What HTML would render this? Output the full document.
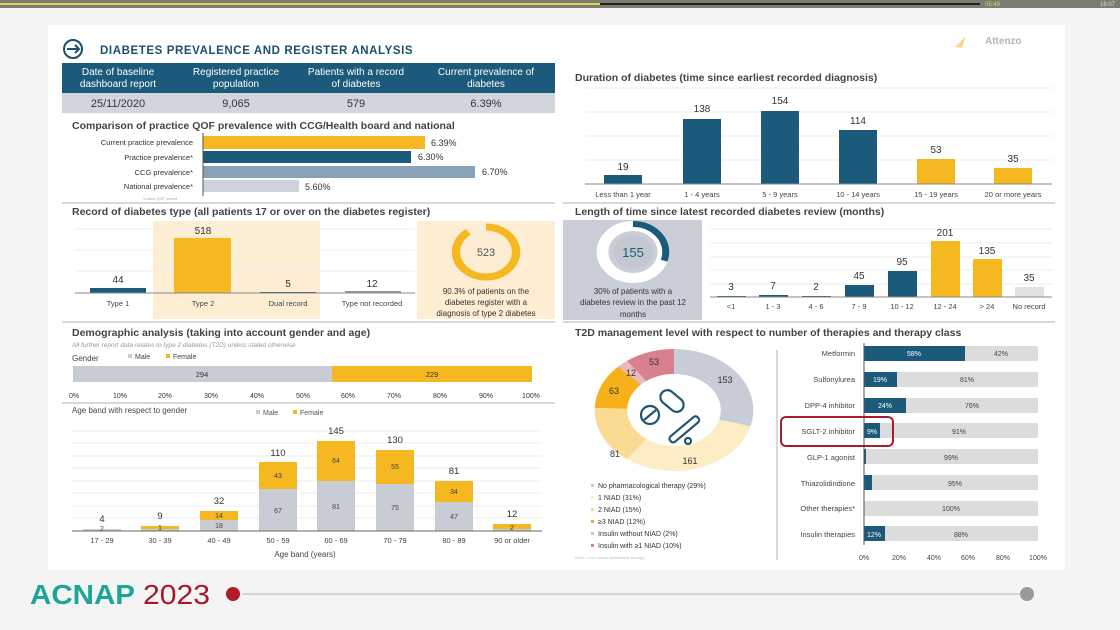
<!DOCTYPE html>
<html><head><meta charset="utf-8"><style>
html,body{margin:0;padding:0;background:#f3f3f3;}
svg{display:block;font-family:"Liberation Sans",sans-serif;}
</style></head><body>
<svg width="1120" height="630" viewBox="0 0 1120 630" xmlns="http://www.w3.org/2000/svg">
<rect width="1120" height="630" fill="#f4f4f4"/>
<rect x="0" y="0" width="1120" height="8" fill="#7c7c74"/>
<rect x="0" y="3" width="600" height="2" fill="#d8d84a"/>
<rect x="600" y="3" width="380" height="2" fill="#222"/>
<text x="985" y="6" font-size="6" fill="#dddd55">05:49</text>
<text x="1100" y="6" font-size="6" fill="#ddd">16:07</text>
<rect x="48" y="25" width="1017" height="545" fill="#ffffff"/>

<!-- Header -->
<circle cx="73" cy="49" r="9" fill="none" stroke="#1b4f6e" stroke-width="2"/>
<path d="M67 49 H79 M75 45 L79 49 L75 53" stroke="#1b4f6e" stroke-width="2" fill="none"/>
<text x="100" y="54" font-size="11.5" font-weight="bold" fill="#1b4f6e" letter-spacing="0.6">DIABETES PREVALENCE AND REGISTER ANALYSIS</text>
<text x="985" y="44" font-size="10" font-weight="bold" fill="#b0b5bb">Attenzo</text>
<path d="M955 47 L966 36 L962 48 Z" fill="#f5d890"/>

<!-- Table -->
<rect x="62" y="63" width="493" height="30" fill="#1b5a7a"/>
<rect x="62" y="93" width="493" height="20" fill="#d1d6dd"/>
<g font-size="10" fill="#fff" text-anchor="middle">
<text x="118" y="75">Date of baseline</text><text x="118" y="87">dashboard report</text>
<text x="236" y="75">Registered practice</text><text x="236" y="87">population</text>
<text x="356" y="75">Patients with a record</text><text x="356" y="87">of diabetes</text>
<text x="486" y="75">Current prevalence of</text><text x="486" y="87">diabetes</text>
</g>
<g font-size="11" fill="#333" text-anchor="middle">
<text x="118" y="107">25/11/2020</text><text x="236" y="107">9,065</text><text x="356" y="107">579</text><text x="486" y="107">6.39%</text>
</g>

<!-- QOF comparison -->
<text x="72" y="129" font-size="10.5" font-weight="bold" fill="#444">Comparison of practice QOF prevalence with CCG/Health board and national</text>
<g font-size="7.5" fill="#333" text-anchor="end">
<text x="193" y="145">Current practice prevalence</text>
<text x="193" y="160">Practice prevalence*</text>
<text x="193" y="175">CCG prevalence*</text>
<text x="193" y="189">National prevalence*</text>
</g>
<text x="160" y="200" font-size="4" fill="#aaa" text-anchor="middle">*Latest QOF period</text>
<rect x="203" y="136" width="222" height="13" fill="#f5b820"/>
<rect x="203" y="151" width="208" height="12" fill="#1b5a7a"/>
<rect x="203" y="166" width="272" height="12" fill="#8aa2b5"/>
<rect x="203" y="180" width="96" height="12" fill="#cdd2da"/>
<line x1="203" y1="133" x2="203" y2="196" stroke="#555" stroke-width="1"/>
<g font-size="9" fill="#333">
<text x="431" y="146">6.39%</text><text x="418" y="160">6.30%</text><text x="482" y="175">6.70%</text><text x="305" y="190">5.60%</text>
</g>
<line x1="62" y1="203" x2="555" y2="203" stroke="#ccc" stroke-width="1.5"/>

<!-- Diabetes type -->
<text x="72" y="215" font-size="10.5" font-weight="bold" fill="#444">Record of diabetes type (all patients 17 or over on the diabetes register)</text>
<rect x="153" y="221" width="167" height="98" fill="#fdeed3"/>
<rect x="417" y="221" width="138" height="98" fill="#fdeed3"/>
<g stroke="#eee"><line x1="75" y1="229" x2="415" y2="229"/><line x1="75" y1="250" x2="415" y2="250"/><line x1="75" y1="271" x2="415" y2="271"/></g>
<rect x="90" y="288" width="56" height="5" fill="#1b5a7a"/>
<rect x="174" y="238" width="57" height="55" fill="#f5b820"/>
<rect x="260" y="292" width="56" height="1" fill="#1b5a7a"/>
<rect x="345" y="291" width="56" height="2" fill="#999"/>
<line x1="75" y1="293" x2="415" y2="293" stroke="#888"/>
<g font-size="10" fill="#333" text-anchor="middle">
<text x="118" y="283">44</text><text x="203" y="234">518</text><text x="288" y="287">5</text><text x="372" y="287">12</text>
</g>
<g font-size="7.5" fill="#444" text-anchor="middle">
<text x="118" y="306">Type 1</text><text x="203" y="306">Type 2</text><text x="288" y="306">Dual record</text><text x="372" y="306">Type not recorded</text>
</g>
<g transform="translate(486,252) scale(1.2,1)">
<circle r="25" fill="none" stroke="#f5b820" stroke-width="7" stroke-dasharray="141 16" transform="rotate(-90)"/>
</g>
<text x="486" y="256" font-size="11" fill="#555" text-anchor="middle">523</text>
<g font-size="8" fill="#333" text-anchor="middle">
<text x="486" y="294">90.3% of patients on the</text><text x="486" y="305">diabetes register with a</text><text x="486" y="316">diagnosis of type 2 diabetes</text>
</g>
<line x1="62" y1="322" x2="555" y2="322" stroke="#ccc" stroke-width="1.5"/>

<!-- Demographic -->
<text x="72" y="336" font-size="10.5" font-weight="bold" fill="#444">Demographic analysis (taking into account gender and age)</text>
<text x="72" y="347" font-size="6.5" font-style="italic" fill="#999">All further report data relates to type 2 diabetes (T2D) unless stated otherwise</text>
<text x="72" y="361" font-size="8" fill="#444">Gender</text>
<rect x="128" y="354" width="4" height="4" fill="#c8ccd4"/><text x="135" y="359" font-size="7" fill="#444">Male</text>
<rect x="166" y="354" width="4" height="4" fill="#f5b820"/><text x="173" y="359" font-size="7" fill="#444">Female</text>
<rect x="73" y="366" width="259" height="16" fill="#c8ccd4"/>
<rect x="332" y="366" width="200" height="16" fill="#f5b820"/>
<text x="202" y="377" font-size="7.5" fill="#333" text-anchor="middle">294</text>
<text x="432" y="377" font-size="7.5" fill="#333" text-anchor="middle">229</text>
<g font-size="7" fill="#333" text-anchor="middle">
<text x="74" y="398">0%</text><text x="120" y="398">10%</text><text x="165" y="398">20%</text><text x="211" y="398">30%</text><text x="257" y="398">40%</text><text x="303" y="398">50%</text><text x="348" y="398">60%</text><text x="394" y="398">70%</text><text x="440" y="398">80%</text><text x="486" y="398">90%</text><text x="531" y="398">100%</text>
</g>
<line x1="62" y1="403" x2="555" y2="403" stroke="#ccc" stroke-width="1.5"/>
<text x="72" y="413" font-size="8" fill="#444">Age band with respect to gender</text>
<rect x="256" y="410" width="4" height="4" fill="#c8ccd4"/><text x="263" y="415" font-size="7" fill="#555">Male</text>
<rect x="293" y="410" width="4" height="4" fill="#f5b820"/><text x="300" y="415" font-size="7" fill="#555">Female</text>
<g stroke="#eee">
<line x1="72" y1="431" x2="542" y2="431"/><line x1="72" y1="443" x2="542" y2="443"/><line x1="72" y1="456" x2="542" y2="456"/><line x1="72" y1="468" x2="542" y2="468"/><line x1="72" y1="481" x2="542" y2="481"/><line x1="72" y1="493" x2="542" y2="493"/><line x1="72" y1="506" x2="542" y2="506"/><line x1="72" y1="518" x2="542" y2="518"/>
</g>
<rect x="83" y="529" width="38" height="2" fill="#c8ccd4"/>
<rect x="141" y="528" width="38" height="3" fill="#c8ccd4"/><rect x="141" y="526" width="38" height="3" fill="#f5b820"/>
<rect x="200" y="520" width="38" height="11" fill="#c8ccd4"/><rect x="200" y="511" width="38" height="9" fill="#f5b820"/>
<rect x="259" y="489" width="38" height="42" fill="#c8ccd4"/><rect x="259" y="462" width="38" height="27" fill="#f5b820"/>
<rect x="317" y="481" width="38" height="50" fill="#c8ccd4"/><rect x="317" y="441" width="38" height="40" fill="#f5b820"/>
<rect x="376" y="484" width="38" height="47" fill="#c8ccd4"/><rect x="376" y="450" width="38" height="34" fill="#f5b820"/>
<rect x="435" y="502" width="38" height="29" fill="#c8ccd4"/><rect x="435" y="481" width="38" height="21" fill="#f5b820"/>
<rect x="493" y="529" width="38" height="2" fill="#c8ccd4"/><rect x="493" y="524" width="38" height="5" fill="#f5b820"/>
<line x1="72" y1="531" x2="542" y2="531" stroke="#666"/>
<g font-size="7" fill="#444" text-anchor="middle">
<text x="102" y="531">2</text><text x="160" y="530">1</text>
<text x="219" y="528">18</text><text x="219" y="518">14</text>
<text x="278" y="513">67</text><text x="278" y="478">43</text>
<text x="336" y="509">81</text><text x="336" y="463">64</text>
<text x="395" y="510">75</text><text x="395" y="469">55</text>
<text x="454" y="519">47</text><text x="454" y="494">34</text>
<text x="512" y="530">2</text>
</g>
<g font-size="9.5" fill="#333" text-anchor="middle">
<text x="102" y="522">4</text><text x="160" y="519">9</text><text x="219" y="504">32</text><text x="278" y="456">110</text><text x="336" y="434">145</text><text x="395" y="443">130</text><text x="454" y="474">81</text><text x="512" y="517">12</text>
</g>
<g font-size="7.5" fill="#444" text-anchor="middle">
<text x="102" y="543">17 - 29</text><text x="160" y="543">30 - 39</text><text x="219" y="543">40 - 49</text><text x="278" y="543">50 - 59</text><text x="336" y="543">60 - 69</text><text x="395" y="543">70 - 79</text><text x="454" y="543">80 - 89</text><text x="512" y="543">90 or older</text>
</g>
<text x="305" y="557" font-size="8" fill="#444" text-anchor="middle">Age band (years)</text>

<!-- Duration -->
<text x="575" y="81" font-size="10.5" font-weight="bold" fill="#444">Duration of diabetes (time since earliest recorded diagnosis)</text>
<g stroke="#eee"><line x1="585" y1="88" x2="1052" y2="88"/><line x1="585" y1="112" x2="1052" y2="112"/><line x1="585" y1="136" x2="1052" y2="136"/><line x1="585" y1="160" x2="1052" y2="160"/></g>
<rect x="604" y="175" width="38" height="9" fill="#1b5a7a"/>
<rect x="683" y="119" width="38" height="65" fill="#1b5a7a"/>
<rect x="761" y="111" width="38" height="73" fill="#1b5a7a"/>
<rect x="839" y="130" width="38" height="54" fill="#1b5a7a"/>
<rect x="917" y="159" width="38" height="25" fill="#f5b820"/>
<rect x="994" y="168" width="38" height="16" fill="#f5b820"/>
<line x1="585" y1="184" x2="1052" y2="184" stroke="#888"/>
<g font-size="10" fill="#333" text-anchor="middle">
<text x="623" y="170">19</text><text x="702" y="112">138</text><text x="780" y="104">154</text><text x="858" y="124">114</text><text x="936" y="153">53</text><text x="1013" y="162">35</text>
</g>
<g font-size="7.5" fill="#444" text-anchor="middle">
<text x="623" y="197">Less than 1 year</text><text x="702" y="197">1 - 4 years</text><text x="780" y="197">5 - 9 years</text><text x="858" y="197">10 - 14 years</text><text x="936" y="197">15 - 19 years</text><text x="1013" y="197">20 or more years</text>
</g>
<line x1="563" y1="203" x2="1055" y2="203" stroke="#ccc" stroke-width="1.5"/>

<!-- Review -->
<text x="575" y="215" font-size="10.5" font-weight="bold" fill="#444">Length of time since latest recorded diabetes review (months)</text>
<rect x="563" y="220" width="139" height="100" fill="#c9ced8"/>
<g transform="translate(633,252) scale(1.17,1)">
<circle r="26" fill="none" stroke="#fff" stroke-width="10"/>
<circle r="17" fill="#c2c7d0"/>
<circle r="28" fill="none" stroke="#1b5a7a" stroke-width="6" stroke-dasharray="52.8 200" transform="rotate(-90)"/>
</g>
<text x="633" y="257" font-size="13" fill="#1b5a7a" text-anchor="middle">155</text>
<g font-size="8" fill="#333" text-anchor="middle">
<text x="633" y="294">30% of patients with a</text><text x="633" y="305">diabetes review in the past 12</text><text x="633" y="317">months</text>
</g>
<g stroke="#eee"><line x1="710" y1="229" x2="1052" y2="229"/><line x1="710" y1="243" x2="1052" y2="243"/><line x1="710" y1="257" x2="1052" y2="257"/><line x1="710" y1="270" x2="1052" y2="270"/><line x1="710" y1="284" x2="1052" y2="284"/></g>
<rect x="717" y="296" width="29" height="1" fill="#1b5a7a"/>
<rect x="759" y="295" width="29" height="2" fill="#1b5a7a"/>
<rect x="802" y="296" width="29" height="1" fill="#1b5a7a"/>
<rect x="845" y="285" width="29" height="12" fill="#1b5a7a"/>
<rect x="888" y="271" width="29" height="26" fill="#1b5a7a"/>
<rect x="931" y="241" width="29" height="56" fill="#f5b820"/>
<rect x="973" y="259" width="29" height="38" fill="#f5b820"/>
<rect x="1015" y="287" width="29" height="10" fill="#e2e2e2"/>
<line x1="710" y1="297" x2="1052" y2="297" stroke="#888"/>
<g font-size="10" fill="#333" text-anchor="middle">
<text x="731" y="290">3</text><text x="773" y="289">7</text><text x="816" y="290">2</text><text x="859" y="279">45</text><text x="902" y="265">95</text><text x="945" y="236">201</text><text x="987" y="254">135</text><text x="1029" y="281">35</text>
</g>
<g font-size="7.5" fill="#444" text-anchor="middle">
<text x="731" y="309">&lt;1</text><text x="773" y="309">1 - 3</text><text x="816" y="309">4 - 6</text><text x="859" y="309">7 - 9</text><text x="902" y="309">10 - 12</text><text x="945" y="309">12 - 24</text><text x="987" y="309">&gt; 24</text><text x="1029" y="309">No record</text>
</g>
<line x1="563" y1="322" x2="1055" y2="322" stroke="#ccc" stroke-width="1.5"/>

<!-- T2D -->
<text x="575" y="336" font-size="10.5" font-weight="bold" fill="#444">T2D management level with respect to number of therapies and therapy class</text>
<g transform="translate(674,410) scale(1.3,1)">
<g transform="rotate(-90)" fill="none" stroke-width="25">
<circle r="48.5" stroke="#c8ccd6" stroke-dasharray="89.2 400" stroke-dashoffset="0"/>
<circle r="48.5" stroke="#fdecc4" stroke-dasharray="93.8 400" stroke-dashoffset="-89.2"/>
<circle r="48.5" stroke="#fbdb94" stroke-dasharray="47.2 400" stroke-dashoffset="-183"/>
<circle r="48.5" stroke="#f5b01a" stroke-dasharray="36.7 400" stroke-dashoffset="-230.2"/>
<circle r="48.5" stroke="#eab8c0" stroke-dasharray="7 400" stroke-dashoffset="-266.9"/>
<circle r="48.5" stroke="#d9808e" stroke-dasharray="30.9 400" stroke-dashoffset="-273.9"/>
</g>
</g>
<g stroke="#1f5570" stroke-width="2.2" fill="none">
<ellipse cx="650" cy="415" rx="9" ry="9"/><line x1="644" y1="420" x2="656" y2="410"/>
<rect x="665" y="388" width="14" height="26" rx="7" transform="rotate(-50 672 401)"/>
<rect x="666" y="426" width="36" height="7" rx="3" transform="rotate(-40 684 429)"/>
<circle cx="688" cy="441" r="3"/>
</g>
<g font-size="9" fill="#333" text-anchor="middle">
<text x="725" y="383">153</text><text x="690" y="464">161</text><text x="615" y="457">81</text><text x="614" y="394">63</text><text x="631" y="376">12</text><text x="654" y="365">53</text>
</g>
<g font-size="7" fill="#333">
<rect x="591" y="484" width="3" height="3" fill="#c8ccd6"/><text x="598" y="488">No pharmacological therapy (29%)</text>
<rect x="591" y="496" width="3" height="3" fill="#fdecc4"/><text x="598" y="500">1 NIAD (31%)</text>
<rect x="591" y="508" width="3" height="3" fill="#fbdb94"/><text x="598" y="512">2 NIAD (15%)</text>
<rect x="591" y="520" width="3" height="3" fill="#f5b01a"/><text x="598" y="524">≥3 NIAD (12%)</text>
<rect x="591" y="532" width="3" height="3" fill="#eab8c0"/><text x="598" y="536">Insulin without NIAD (2%)</text>
<rect x="591" y="544" width="3" height="3" fill="#d9808e"/><text x="598" y="548">Insulin with ≥1 NIAD (10%)</text>
</g>
<text x="575" y="559" font-size="4" fill="#bbb">NIAD = non insulin antidiabetic therapy</text>
<line x1="777" y1="350" x2="777" y2="560" stroke="#ccc" stroke-width="1.5"/>

<g font-size="7.5" fill="#444" text-anchor="end">
<text x="855" y="356">Metformin</text><text x="855" y="382">Sulfonylurea</text><text x="855" y="408">DPP-4 inhibitor</text><text x="855" y="434">SGLT-2 inhibitor</text><text x="855" y="460">GLP-1 agonist</text><text x="855" y="486">Thiazolidindione</text><text x="855" y="511">Other therapies*</text><text x="855" y="537">Insulin therapies</text>
</g>
<g fill="#dcdcdc">
<rect x="864" y="346" width="174" height="15"/><rect x="864" y="372" width="174" height="15"/><rect x="864" y="398" width="174" height="15"/><rect x="864" y="423" width="174" height="15"/><rect x="864" y="449" width="174" height="15"/><rect x="864" y="475" width="174" height="15"/><rect x="864" y="501" width="174" height="15"/><rect x="864" y="526" width="174" height="15"/>
</g>
<g fill="#1b5a7a">
<rect x="864" y="346" width="101" height="15"/><rect x="864" y="372" width="33" height="15"/><rect x="864" y="398" width="42" height="15"/><rect x="864" y="423" width="16" height="15"/><rect x="864" y="449" width="2" height="15"/><rect x="864" y="475" width="8" height="15"/><rect x="864" y="526" width="21" height="15"/>
</g>
<g font-size="7" text-anchor="middle">
<text x="914" y="356" fill="#fff">58%</text><text x="1001" y="356" fill="#444">42%</text>
<text x="880" y="382" fill="#fff">19%</text><text x="967" y="382" fill="#444">81%</text>
<text x="885" y="408" fill="#fff">24%</text><text x="972" y="408" fill="#444">76%</text>
<text x="872" y="434" fill="#fff">9%</text><text x="959" y="434" fill="#444">91%</text>
<text x="951" y="460" fill="#444">99%</text>
<text x="955" y="486" fill="#444">95%</text>
<text x="951" y="511" fill="#444">100%</text>
<text x="874" y="537" fill="#fff">12%</text><text x="961" y="537" fill="#444">88%</text>
</g>
<line x1="864" y1="343" x2="864" y2="545" stroke="#555"/>
<g font-size="7" fill="#444" text-anchor="middle">
<text x="864" y="560">0%</text><text x="899" y="560">20%</text><text x="934" y="560">40%</text><text x="968" y="560">60%</text><text x="1003" y="560">80%</text><text x="1038" y="560">100%</text>
</g>
<rect x="781" y="417" width="112" height="29" rx="5" fill="none" stroke="#a31d2c" stroke-width="2"/>

<!-- Footer -->
<text x="30" y="604" font-size="28" font-weight="bold" fill="#1ea597" textLength="105" lengthAdjust="spacingAndGlyphs">ACNAP</text>
<text x="143" y="604" font-size="28" fill="#a8182c" textLength="67" lengthAdjust="spacingAndGlyphs">2023</text>
<circle cx="233" cy="594" r="7" fill="#b01a2a"/>
<line x1="242" y1="594" x2="1020" y2="594" stroke="#ccc" stroke-width="1.5"/>
<circle cx="1027" cy="594" r="7" fill="#9a9a9a"/>
</svg>
</body></html>
